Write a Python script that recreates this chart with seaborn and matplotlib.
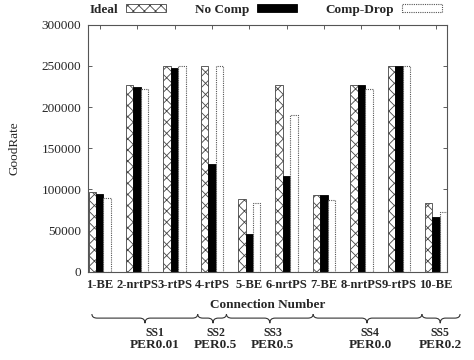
import matplotlib
matplotlib.use("Agg")
import matplotlib.pyplot as plt
from matplotlib.path import Path
from matplotlib.patches import PathPatch, Patch
import matplotlib.transforms as mtransforms
import numpy as np
import pandas as pd
import seaborn as sns

# ---- data ----
connections = ["1-BE", "2-nrtPS", "3-rtPS", "4-rtPS", "5-BE",
               "6-nrtPS", "7-BE", "8-nrtPS", "9-rtPS", "10-BE"]
ideal = [96500, 226500, 250000, 250000, 88500, 226500, 93500, 226500, 250000, 84000]
no_comp = [95000, 224000, 248000, 131000, 46000, 116000, 93000, 226500, 250000, 67000]
comp_drop = [90000, 222000, 250000, 250000, 83000, 190500, 87000, 222500, 250000, 72500]
series_names = ["Ideal", "No Comp", "Comp-Drop"]

# groups of subscriber stations
group_labels = ["SS1", "SS2", "SS3", "SS4", "SS5"]
group_per = ["PER0.01", "PER0.5", "PER0.5", "PER0.0", "PER0.2"]
group_start = [-0.21, 2.62, 3.39, 5.71, 8.62]
group_end = [2.62, 3.39, 5.71, 8.62, 9.64]
group_tip = [1.21, 3.03, 4.55, 7.15, 9.11]
group_text_x = [1.47, 3.10, 4.63, 7.23, 9.11]

df = pd.DataFrame({
    "Connection": connections * 3,
    "Series": sum([[s] * len(connections) for s in series_names], []),
    "GoodRate": ideal + no_comp + comp_drop,
})

sns.set_style("white")
serif = ["Liberation Serif", "DejaVu Serif"]
plt.rcParams["font.family"] = serif
plt.rcParams["hatch.linewidth"] = 0.6

fig = plt.figure(figsize=(4.74, 3.6), dpi=100)
ax = fig.add_axes([0.186, 0.245, 0.757, 0.686])

sns.barplot(data=df, x="Connection", y="GoodRate", hue="Series",
            hue_order=series_names, order=connections, width=0.6,
            palette=["white", "black", "white"], saturation=1,
            ax=ax, legend=False, errorbar=None)

styles = [
    dict(facecolor="white", edgecolor="#444444", hatch="xxx", linestyle="-", linewidth=0.6),
    dict(facecolor="black", edgecolor="black", hatch=None, linestyle="-", linewidth=0.6),
    dict(facecolor="white", edgecolor="#555555", hatch=None, linestyle=(0, (1, 1)), linewidth=0.8),
]
for cont, st in zip(ax.containers, styles):
    for p in cont.patches:
        p.set_facecolor(st["facecolor"])
        p.set_edgecolor(st["edgecolor"])
        p.set_hatch(st["hatch"])
        p.set_linestyle(st["linestyle"])
        p.set_linewidth(st["linewidth"])

ax.set_xlim(-0.31, 9.29)
ax.set_ylim(0, 300000)
ax.set_yticks(np.arange(0, 300001, 50000))
ax.set_yticklabels([str(v) for v in range(0, 300001, 50000)], fontsize=9.5)
ax.set_xticks(range(len(connections)))
ax.set_xticklabels(connections, fontsize=9, fontweight="bold")
ax.tick_params(direction="in", top=True, right=True, bottom=True, left=True,
               length=3, width=0.6, color="#444444", pad=5)
for s in ax.spines.values():
    s.set_color("#555555")
    s.set_linewidth(0.8)

ax.set_ylabel("GoodRate", fontsize=9.5, labelpad=15)
ax.set_xlabel("Connection Number", fontsize=9.5, fontweight="bold", labelpad=6)

handles = [Patch(**{k: v for k, v in st.items()}) for st in styles]
leg = ax.legend(handles, series_names, loc="lower left",
                bbox_to_anchor=(-0.01, 1.015, 1.01, 0.05), ncol=3, mode="expand",
                markerfirst=False, frameon=False, handlelength=3.0,
                handleheight=0.5, handletextpad=0.6, borderaxespad=0,
                prop={"family": serif, "size": 9.5, "weight": "bold"})

# braces
trans = mtransforms.blended_transform_factory(ax.transData, ax.transAxes)
y_top, y_mid, y_tip = -0.171, -0.1875, -0.208
d = 0.14
for lab, per, x0, x1, xm, xt in zip(group_labels, group_per, group_start,
                                      group_end, group_tip, group_text_x):
    verts = [(x0, y_top), (x0, y_mid), (x0 + d, y_mid),
             (xm - d, y_mid), (xm, y_mid), (xm, y_tip),
             (xm, y_mid), (xm + d, y_mid),
             (x1 - d, y_mid), (x1, y_mid), (x1, y_top)]
    codes = [Path.MOVETO, Path.CURVE3, Path.CURVE3,
             Path.LINETO, Path.CURVE3, Path.CURVE3,
             Path.CURVE3, Path.CURVE3,
             Path.LINETO, Path.CURVE3, Path.CURVE3]
    pp = PathPatch(Path(verts, codes), transform=trans, fill=False,
                   edgecolor="#333333", linewidth=0.8, clip_on=False)
    ax.add_patch(pp)
    ax.text(xt, -0.249, lab, transform=trans, ha="center", va="center",
            fontsize=8.5, fontweight="bold")
    ax.text(xt, -0.297, per, transform=trans, ha="center", va="center",
            fontsize=9.5, fontweight="bold")

fig.savefig("out.png", dpi=100, facecolor="white")
